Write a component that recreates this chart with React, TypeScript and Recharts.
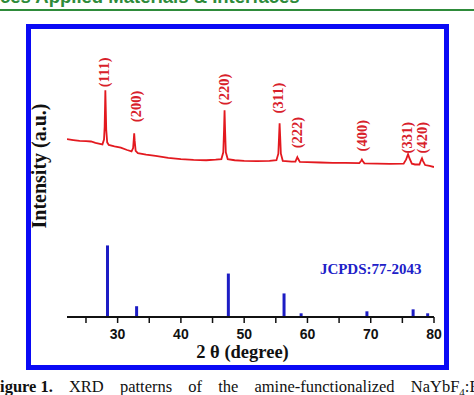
import React from 'react';
import {
  ComposedChart,
  Line,
  XAxis,
  YAxis,
  ReferenceLine,
  ReferenceDot,
} from 'recharts';

// measured XRD pattern (2θ, intensity in a.u.)
const xrdTheta = [
  22.0, 23.0, 24.0, 25.0, 25.8, 26.5, 27.2, 27.6, 27.85, 27.95, 28.02, 28.06,
  28.12, 28.2, 28.35, 28.6, 29.5, 30.5, 31.5, 32.2, 32.45, 32.55, 32.62, 32.7,
  32.85, 33.2, 34.5, 36.0, 38.0, 40.0, 42.0, 44.0, 45.5, 46.4, 46.7, 46.82,
  46.9, 46.98, 47.1, 47.4, 48.5, 50.0, 52.0, 54.0, 55.1, 55.4, 55.52, 55.6,
  55.68, 55.8, 56.1, 57.5, 58.1, 58.3, 58.4, 58.5, 58.8, 60.0, 62.0, 64.0,
  66.0, 68.2, 68.5, 68.6, 68.7, 69.0, 71.0, 73.0, 75.2, 75.6, 75.9, 76.1,
  76.5, 77.0, 77.7, 77.95, 78.1, 78.25, 78.6, 79.3, 80.0,
];
const xrdIntensity = [
  62.6, 62.3, 62.0, 61.9, 61.8, 61.3, 61.0, 60.8, 62.5, 67.0, 75.0, 79.8,
  74.0, 66.0, 61.5, 60.6, 60.1, 59.6, 58.8, 58.3, 59.5, 62.5, 64.7, 62.0,
  58.5, 57.7, 57.2, 56.7, 56.0, 55.6, 55.3, 55.2, 55.4, 55.6, 58.0, 66.0,
  72.8, 66.0, 58.0, 55.6, 55.2, 55.0, 54.9, 55.0, 55.2, 57.5, 64.0, 68.2,
  64.0, 57.5, 55.0, 54.7, 54.7, 55.8, 56.3, 55.8, 54.6, 54.5, 54.4, 54.3,
  54.3, 54.2, 55.0, 55.4, 55.0, 54.1, 54.0, 53.9, 54.0, 55.5, 57.3, 56.0,
  54.0, 53.7, 53.7, 55.2, 55.9, 55.0, 53.5, 53.2, 52.8,
];

// JCPDS 77-2043 reference lines
const stickTheta = [28.4, 33.0, 47.5, 56.3, 59.0, 69.4, 76.7, 79.0];
const stickIntensity = [25.2, 3.8, 15.3, 8.3, 1.3, 2.0, 2.7, 1.3];

// hkl labels: centre 2θ and bottom of the label
const peakNames = ['(111)', '(200)', '(220)', '(311)', '(222)', '(400)', '(331)', '(420)'];
const peakLabelTheta = [27.85, 32.9, 46.8, 55.3, 58.3, 68.7, 75.7, 78.05];
const peakLabelBase = [80.9, 68.6, 74.6, 71.7, 59.4, 58.3, 57.6, 57.6];

const xTicks = [25, 30, 35, 40, 45, 50, 55, 60, 65, 70, 75, 80];

const xrdData = xrdTheta.map((t, i) => ({ theta: t, intensity: xrdIntensity[i] }));

const serif = '"Liberation Serif", "Times New Roman", serif';

function PeakLabel({ viewBox, text }: any) {
  const x = viewBox.x + 5;
  const y = viewBox.y;
  return (
    <text
      x={x}
      y={y}
      transform={`rotate(-90 ${x} ${y})`}
      textAnchor="start"
      fill="#d8202a"
      fontFamily={serif}
      fontWeight="bold"
      fontSize={14.5}
    >
      {text}
    </text>
  );
}

export default function App() {
  return (
    <div
      style={{
        position: 'absolute',
        left: 0,
        top: 0,
        width: 474,
        height: 395,
        overflow: 'hidden',
        background: '#fff',
      }}
    >
      {/* journal header, cut off at the top */}
      <div
        style={{
          position: 'absolute',
          left: 0,
          top: -14,
          fontFamily: '"Liberation Sans", Arial, sans-serif',
          fontWeight: 'bold',
          fontSize: 18.5,
          color: '#2e8b3a',
          whiteSpace: 'nowrap',
        }}
      >
        ces Applied Materials &amp; Interfaces
      </div>
      <div
        style={{
          position: 'absolute',
          left: 0,
          top: 9,
          width: 474,
          height: 2,
          background: '#2e8b3a',
        }}
      />

      {/* blue figure frame */}
      <div
        style={{
          position: 'absolute',
          left: 26,
          top: 24,
          width: 413,
          height: 336,
          border: '5px solid #0a0af5',
        }}
      />

      <div style={{ position: 'absolute', left: 0, top: 0 }}>
        <ComposedChart
          width={474}
          height={395}
          margin={{ top: 33, right: 40, left: 67, bottom: 37 }}
        >
          <XAxis
            dataKey="theta"
            type="number"
            domain={[22, 80]}
            ticks={xTicks}
            allowDataOverflow
            height={41}
            interval={0}
            tickFormatter={(v: number) => (v % 10 === 0 ? String(v) : '')}
            axisLine={{ stroke: '#111', strokeWidth: 2 }}
            tickLine={{ stroke: '#111', strokeWidth: 1.5 }}
            tickSize={6}
            tickMargin={6}
            tick={{
              fill: '#111',
              fontSize: 14,
              fontWeight: 'bold',
              fontFamily: '"Liberation Sans", Arial, sans-serif',
            }}
            label={{
              value: '2 θ (degree)',
              position: 'insideBottom',
              offset: 0,
              dx: -8,
              fill: '#111',
              fontSize: 18.5,
              fontWeight: 'bold',
              fontFamily: serif,
            }}
          />
          <XAxis
            xAxisId="top"
            orientation="top"
            type="number"
            domain={[22, 80]}
            height={0}
            tick={false}
            tickLine={false}
            axisLine={{ stroke: '#111', strokeWidth: 2 }}
          />
          <YAxis
            type="number"
            domain={[0, 100]}
            width={0}
            tick={false}
            tickLine={false}
            axisLine={{ stroke: '#111', strokeWidth: 2 }}
          />
          <YAxis
            yAxisId="right"
            orientation="right"
            type="number"
            domain={[0, 100]}
            width={0}
            tick={false}
            tickLine={false}
            axisLine={{ stroke: '#111', strokeWidth: 2 }}
          />

          <Line
            data={xrdData}
            dataKey="intensity"
            type="linear"
            stroke="#e3191f"
            strokeWidth={1.8}
            dot={false}
            activeDot={false}
            isAnimationActive={false}
          />

          {stickTheta.map((t, i) => (
            <ReferenceLine
              key={`stick-${t}`}
              segment={[
                { x: t, y: 0 },
                { x: t, y: stickIntensity[i] },
              ]}
              stroke="#1c1cc4"
              strokeWidth={3}
            />
          ))}

          {peakNames.map((name, i) => (
            <ReferenceDot
              key={name}
              x={peakLabelTheta[i]}
              y={peakLabelBase[i]}
              r={0}
              stroke="none"
              label={<PeakLabel text={name} />}
            />
          ))}

          <ReferenceDot
            x={70}
            y={17.1}
            r={0}
            stroke="none"
            label={{
              value: 'JCPDS:77-2043',
              fill: '#2020c8',
              fontSize: 15,
              fontWeight: 'bold',
              fontFamily: serif,
            }}
          />
        </ComposedChart>
      </div>

      {/* y axis title */}
      <svg
        width={474}
        height={395}
        style={{ position: 'absolute', left: 0, top: 0, pointerEvents: 'none' }}
      >
        <text
          x={45.5}
          y={166}
          transform="rotate(-90 45.5 166)"
          textAnchor="middle"
          fill="#111"
          fontFamily={serif}
          fontWeight="bold"
          fontSize={20}
        >
          Intensity (a.u.)
        </text>
      </svg>

      {/* figure caption, cut off at the bottom */}
      <div
        style={{
          position: 'absolute',
          left: -10,
          top: 377,
          width: 495,
          fontFamily: serif,
          fontSize: 16.5,
          lineHeight: '19px',
          color: '#111',
          textAlign: 'justify',
          textAlignLast: 'justify',
        }}
      >
        <b>
          Figure<span style={{ display: 'inline-block', width: 4 }} />1.
        </b>{' '}
        XRD patterns of the amine-functionalized NaYbF
        <sub style={{ fontSize: 11 }}>4</sub>:Er
      </div>
    </div>
  );
}
